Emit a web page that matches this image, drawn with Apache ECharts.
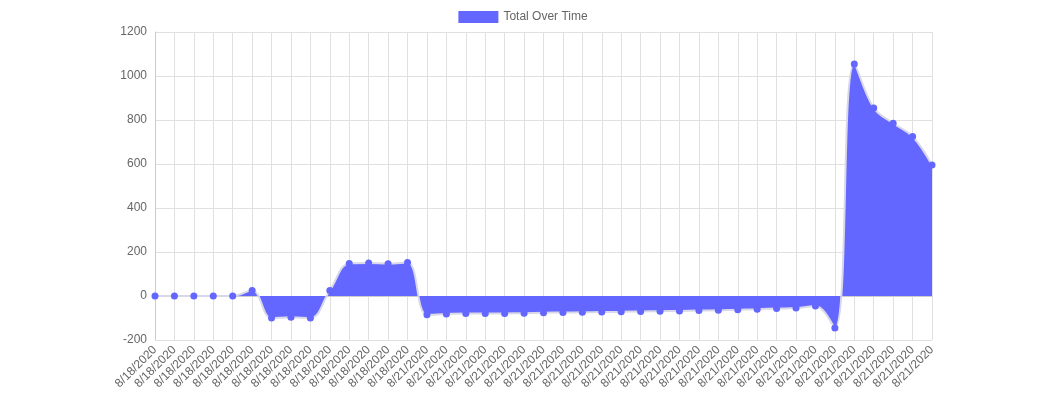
<!DOCTYPE html><html><head><meta charset="utf-8"><script src="https://cdn.jsdelivr.net/npm/echarts@6/dist/echarts.min.js"></script></head><body style="margin:0"><div id="c" style="width:1046px;height:420px"></div><script>
const categories = [].concat(Array(14).fill('8/18/2020'), Array(27).fill('8/21/2020'));
const values = [0,0,0,0,0,25,-100,-97,-100,25,148,150,147,152,-85,-82,-80,-80,-79,-78,-76,-75,-74,-73,-72,-70,-69,-68,-66,-65,-62,-60,-57,-55,-45,-145,1055,855,785,725,595];
const color = '#6366ff';
const c = echarts.init(document.getElementById('c'));
c.setOption({
  animation:false,
  legend:{top:6,itemWidth:40,itemHeight:12,icon:'rect',textStyle:{color:'#666',fontFamily:'Arial',fontSize:12},data:['Total Over Time']},
  grid:{left:155,right:114,top:32,bottom:80},
  xAxis:{type:'category',data:categories,boundaryGap:false,
    axisLabel:{rotate:45,interval:0,color:'#666',fontFamily:'Arial',fontSize:12},
    axisLine:{lineStyle:{color:'#ccc'}},axisTick:{show:false},
    splitLine:{show:true,lineStyle:{color:'#e0e0e0'}}},
  yAxis:{type:'value',min:-200,max:1200,interval:200,
    axisLabel:{color:'#666',fontFamily:'Arial',fontSize:12,formatter:v=>String(v)},
    axisLine:{show:true,lineStyle:{color:'#ccc'}},
    splitLine:{lineStyle:{color:'#e0e0e0'}}},
  series:[{name:'Total Over Time',type:'line',data:values,smooth:0.4,
    symbol:'circle',symbolSize:7,itemStyle:{color:color},
    lineStyle:{color:'#d8d8e8',width:2},
    areaStyle:{color:color,opacity:1,origin:0}}]
});
</script></body></html>
